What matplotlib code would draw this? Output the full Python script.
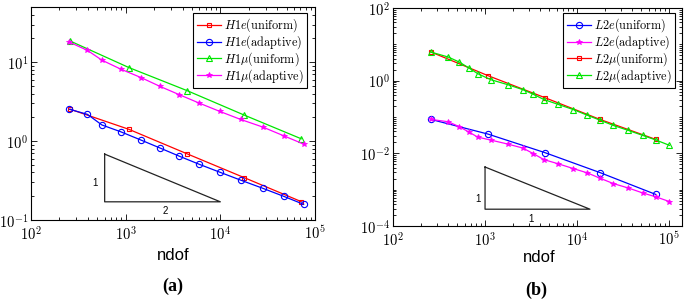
import matplotlib
matplotlib.use("Agg")
import matplotlib.pyplot as plt
from matplotlib.ticker import LogLocator, FuncFormatter, NullFormatter
import numpy as np

plt.rcParams['mathtext.fontset'] = 'cm'

# uniform refinement (same meshes in both panels)
ndof_uniform = [260, 1080, 4450, 17800, 71500]

# panel (a): H1 errors
ndof_adapt_a = [255, 395, 561, 890, 1452, 2290, 3670, 5940, 9840, 16400, 27900, 46500, 75800]
h1e_uniform = [2.53, 1.41, 0.69, 0.345, 0.171]
h1e_adaptive = [2.53, 2.18, 1.60, 1.31, 1.03, 0.82, 0.645, 0.51, 0.404, 0.32, 0.253, 0.20, 0.158]
h1mu_uniform = [18.5, 8.55, 4.36, 2.14, 1.07]
h1mu_adaptive = [17.9, 14.1, 10.6, 8.15, 6.38, 4.95, 3.88, 3.04, 2.38, 1.88, 1.51, 1.17, 0.916]

# panel (b): L2 errors
ndof_adapt_b = [259, 399, 525, 670, 832, 1160, 1765, 2570, 3350, 4370, 6170, 9120,
                12900, 17800, 24800, 36100, 51800, 72400, 100800]
l2e_uniform = [0.0855, 0.0338, 0.0105, 0.00294, 0.00074]
l2e_adaptive = [0.0855, 0.074, 0.054, 0.0384, 0.028, 0.0231, 0.018, 0.014, 0.0098, 0.0067,
                0.0052, 0.0038, 0.0029, 0.00206, 0.00147, 0.00111, 0.00081, 0.00063, 0.00047]
l2mu_uniform = [6.11, 1.37, 0.342, 0.0855, 0.0242]
l2mu_adaptive = [6.11, 4.46, 3.25, 2.23, 1.56, 1.06, 0.777, 0.567, 0.421, 0.302, 0.224, 0.160,
                 0.112, 0.0817, 0.0585, 0.0427, 0.0311, 0.0231, 0.0166]

# slope triangles: (x0, x1, y_bottom, y_top)
tri_a = (600, 10000, 0.17, 0.684)
tri_b = (1000, 13800, 2.9e-4, 4.2e-3)

RED, BLUE, GREEN, MAG = '#ff0000', '#0000ff', '#00e600', '#ff00ff'
W, H = 685, 305

fig = plt.figure(figsize=(W / 100, H / 100), dpi=100)
ax1 = fig.add_axes([31 / W, 1 - 220 / H, (315 - 31) / W, (220 - 7) / H])
ax2 = fig.add_axes([393 / W, 1 - 226 / H, (682 - 393) / W, (226 - 8) / H])


def style_axis(ax, ymajor):
    ax.set_xscale('log')
    ax.set_yscale('log')
    ax.xaxis.set_major_locator(LogLocator(base=10, numticks=20))
    ax.xaxis.set_minor_locator(LogLocator(base=10, subs=np.arange(2, 10), numticks=50))
    ax.yaxis.set_major_locator(LogLocator(base=10 ** ymajor, numticks=20))
    ax.yaxis.set_minor_locator(LogLocator(base=10, subs=np.arange(1, 10), numticks=50))
    fmt = FuncFormatter(lambda v, p: r'$10^{%d}$' % int(round(np.log10(v))))
    ax.xaxis.set_major_formatter(fmt)
    ax.yaxis.set_major_formatter(fmt)
    ax.xaxis.set_minor_formatter(NullFormatter())
    ax.yaxis.set_minor_formatter(NullFormatter())
    ax.tick_params(which='both', direction='in', top=True, right=True, labelsize=10.5,
                   width=0.6)
    ax.tick_params(which='major', length=4)
    ax.tick_params(which='minor', length=2)
    ax.tick_params(axis='y', pad=2)
    for s in ax.spines.values():
        s.set_linewidth(0.8)


def triangle(ax, tri, lab_left, lab_bottom):
    x0, x1, yb, yt = tri
    ax.plot([x0, x0, x1, x0], [yt, yb, yb, yt], color='#222222', lw=0.9)
    for lx, ly, s in (lab_left, lab_bottom):
        ax.text(lx, ly, s, fontsize=7, ha='center', va='center', family='Liberation Sans')


kw = dict(lw=0.9)
ax1.plot(ndof_uniform, h1e_uniform, color=RED, marker='s', ms=3.2, mfc='none', mew=0.8,
         label=r'$H1e\mathrm{(uniform)}$', **kw)
ax1.plot(ndof_adapt_a, h1e_adaptive, color=BLUE, marker='o', ms=4.5, mfc='none', mew=0.8,
         label=r'$H1e\mathrm{(adaptive)}$', **kw)
ax1.plot(ndof_uniform, h1mu_uniform, color=GREEN, marker='^', ms=4.5, mfc='none', mew=0.8,
         label=r'$H1\mu\mathrm{(uniform)}$', **kw)
ax1.plot(ndof_adapt_a, h1mu_adaptive, color=MAG, marker='*', ms=4.2, mew=0.6,
         label=r'$H1\mu\mathrm{(adaptive)}$', **kw)
style_axis(ax1, 1)
ax1.set_xlim(1e2, 1e5)
ax1.set_ylim(0.1, 50)
triangle(ax1, tri_a, (480, 0.295, '1'), (2630, 0.13, '2'))

ax2.plot(ndof_uniform, l2e_uniform, color=BLUE, marker='o', ms=4.5, mfc='none', mew=0.8,
         label=r'$L2e\mathrm{(uniform)}$', **kw)
ax2.plot(ndof_adapt_b, l2e_adaptive, color=MAG, marker='*', ms=4.2, mew=0.6,
         label=r'$L2e\mathrm{(adaptive)}$', **kw)
ax2.plot(ndof_uniform, l2mu_uniform, color=RED, marker='s', ms=3.2, mfc='none', mew=0.8,
         label=r'$L2\mu\mathrm{(uniform)}$', **kw)
ax2.plot(ndof_adapt_b, l2mu_adaptive, color=GREEN, marker='^', ms=4.5, mfc='none', mew=0.8,
         label=r'$L2\mu\mathrm{(adaptive)}$', **kw)
style_axis(ax2, 2)
ax2.set_xlim(1e2, 1.38e5)
ax2.set_ylim(1e-4, 1e2)
triangle(ax2, tri_b, (845, 5.6e-4, '1'), (3160, 1.6e-4, '1'))

for ax, (xr, yt) in ((ax1, (307, 13)), (ax2, (675, 13))):
    leg = ax.legend(loc='upper right', bbox_to_anchor=(xr / W, 1 - yt / H),
                    bbox_transform=fig.transFigure, fontsize=8.8, fancybox=False,
                    edgecolor='black', framealpha=1, borderpad=0.3, labelspacing=-0.08,
                    handlelength=2.0, handletextpad=0.2, borderaxespad=0)
    leg.get_frame().set_linewidth(0.8)

fig.text(173 / W, 1 - 255 / H, 'ndof', fontsize=12, ha='center', va='center',
         family='Liberation Sans')
fig.text(539 / W, 1 - 257 / H, 'ndof', fontsize=12, ha='center', va='center',
         family='Liberation Sans')
fig.text(173 / W, 1 - 286 / H, '(a)', fontsize=13, ha='center', va='center',
         family='Liberation Serif', weight='bold')
fig.text(536 / W, 1 - 290 / H, '(b)', fontsize=13, ha='center', va='center',
         family='Liberation Serif', weight='bold')

fig.savefig('out.png', dpi=100)
